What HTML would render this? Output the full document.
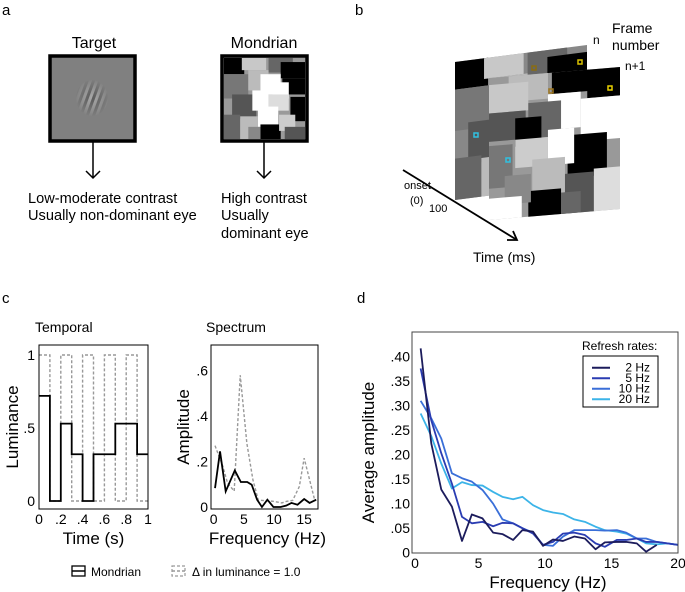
<!DOCTYPE html>
<html><head><meta charset="utf-8">
<style>
html,body{margin:0;padding:0;background:#fff}
svg{display:block;font-family:"Liberation Sans",Arial,sans-serif}
</style></head>
<body>
<svg id="fig" width="685" height="592" viewBox="0 0 685 592">
<defs>
<radialGradient id="gab" cx="0.5" cy="0.5" r="0.5">
<stop offset="0" stop-color="#808080" stop-opacity="0"/><stop offset="1" stop-color="#808080" stop-opacity="1"/>
</radialGradient>
<pattern id="stripes" width="6" height="6" patternUnits="userSpaceOnUse" patternTransform="rotate(20)">
<rect width="3" height="6" fill="#5a5a5a"/><rect x="3" width="3" height="6" fill="#a8a8a8"/>
</pattern>
<clipPath id="clipM"><rect x="224" y="58" width="81" height="81"/></clipPath>
</defs>

<!-- Panel a -->
<text x="2" y="15" font-size="15">a</text>
<text x="94" y="48" font-size="16" text-anchor="middle">Target</text>
<text x="264" y="48" font-size="16" text-anchor="middle">Mondrian</text>
<g>
<rect x="50" y="56" width="85" height="85" fill="#808080" stroke="#000" stroke-width="3.5"/>
<ellipse cx="92" cy="98" rx="16" ry="18" fill="url(#stripes)"/>
<ellipse cx="92" cy="98" rx="17" ry="19" fill="url(#gab)"/>
</g>
<g>
<rect x="222" y="56" width="85" height="85" fill="#aaa" stroke="#000" stroke-width="3.5"/>
<g clip-path="url(#clipM)" id="mondA"></g>
</g>
<g stroke="#000" stroke-width="1.5" fill="none">
<line x1="93" y1="142" x2="93" y2="178"/><polyline points="86,171 93,178 100,171"/></g>
<g stroke="#000" stroke-width="1.5" fill="none">
<line x1="264" y1="142" x2="264" y2="178"/><polyline points="257,171 264,178 271,171"/></g>
<g font-size="14.6">
<text x="28" y="203">Low-moderate contrast</text><text x="28" y="220">Usually non-dominant eye</text></g>
<g font-size="14.6">
<text x="221" y="203">High contrast</text><text x="221" y="220">Usually</text><text x="221" y="238">dominant eye</text></g>

<!-- Panel b -->
<text x="355" y="15" font-size="15">b</text>
<g id="backFrame" transform="matrix(132,-17,0,138,455,62)"></g>
<g id="frontFrame" transform="matrix(131,-11,0,142,489,78)"></g>
<g fill="none" stroke-width="1.5">
<rect x="532" y="66" width="4" height="4" stroke="#8a6d10"/>
<rect x="578" y="60" width="4" height="4" stroke="#d8c000"/>
<rect x="549" y="89" width="4" height="4" stroke="#a07820"/>
<rect x="608" y="86" width="4" height="4" stroke="#e8d000"/>
<rect x="474" y="133" width="4" height="4" stroke="#30c0e0"/>
<rect x="506" y="158" width="4" height="4" stroke="#30c0e0"/>
</g>
<text x="593" y="44" font-size="12">n</text>
<text x="612" y="33" font-size="14">Frame</text>
<text x="612" y="50" font-size="14">number</text>
<text x="625" y="70" font-size="12">n+1</text>
<g stroke="#000" stroke-width="1.8" fill="none">
<line x1="403" y1="170" x2="517" y2="240"/><polyline points="507,240 517,240 513,231"/></g>
<text x="404" y="189" font-size="11">onset</text>
<text x="410" y="204" font-size="11">(0)</text>
<text x="429" y="212" font-size="11">100</text>
<text x="473" y="262" font-size="14">Time (ms)</text>

<!-- Panel c -->
<text x="2" y="303" font-size="15">c</text>
<text x="35" y="332" font-size="14">Temporal</text>
<text x="206" y="332" font-size="14">Spectrum</text>
<g id="temporal"></g>
<g id="spectrum"></g>
<g font-size="12">
<g><rect x="72" y="566" width="13" height="10" fill="none" stroke="#000" stroke-width="1.3"/><line x1="72" y1="571" x2="85" y2="571" stroke="#000" stroke-width="1.5"/><text x="91" y="576">Mondrian</text></g>
<g><rect x="172" y="566" width="13" height="10" fill="none" stroke="#999" stroke-width="1.2" stroke-dasharray="3,2"/><line x1="172" y1="571" x2="185" y2="571" stroke="#999" stroke-width="1.5" stroke-dasharray="3,2"/><text x="192" y="576">Δ in luminance = 1.0</text></g>
</g>

<!-- Panel d -->
<text x="357" y="303" font-size="15">d</text>
<g id="panelD"></g>
</svg>

<script>
// ---------- Panel c data ----------
const temporalEdges = [0,0.1,0.2,0.3,0.4,0.5,0.6,0.7,0.8,0.9,1.0];
const mondrianLum = [0.72,0,0.53,0.32,0,0.32,0.32,0.53,0.53,0.32];
const squareLum = [1,0,1,0,1,0,1,0,1,0];
const temporalXTicks = [0,0.2,0.4,0.6,0.8,1];
const temporalXTickLabels = ["0",".2",".4",".6",".8","1"];
const temporalYTicks = [0,0.5,1];
const temporalYTickLabels = ["0",".5","1"];

const specMondFreq = [0.22,1.05,1.99,3.5,4.5,5.56,6.3,7.2,8.0,8.9,9.9,11.1,12.0,12.9,13.9,15,15.9,17];
const specMondAmp = [0.083,0.245,0.069,0.161,0.11,0.11,0.098,0.032,0,0.032,0,0,0.006,0.018,0.01,0.035,0.018,0.032];
const specSqFreq = [0.22,1.5,2.3,3.4,4.4,5.5,6.5,7.4,8.5,9.9,11.3,12.1,13.1,14.2,15,15.9,16.8];
const specSqAmp = [0.27,0.18,0.105,0.07,0.58,0.28,0.12,0.03,0.028,0.025,0.018,0.025,0.029,0.09,0.215,0.12,0.025];
const specXTicks = [0,5,10,15];
const specYTicks = [0,0.2,0.4,0.6];
const specYTickLabels = ["0",".2",".4",".6"];

// ---------- Panel d data ----------
const freqD = [0.65,1.45,2.2,3.0,3.76,4.5,5.3,6.1,6.8,7.6,8.3,9.1,9.85,10.6,11.35,12.2,13,13.8,14.5,15.4,16.1,16.9,17.6,18.4,19.2,20];
const amp2Hz = [0.417,0.223,0.129,0.094,0.024,0.078,0.07,0.041,0.038,0.026,0.046,0.043,0.014,0.027,0.024,0.033,0.029,0.007,0.021,0.022,0.022,0.019,0.002,0.016];
const amp5Hz = [0.376,0.27,0.203,0.141,0.073,0.06,0.063,0.054,0.061,0.06,0.05,0.039,0.016,0.022,0.039,0.041,0.036,0.019,0.012,0.026,0.026,0.029,0.022,0.022,0.019,0.016];
const amp10Hz = [0.31,0.274,0.233,0.162,0.152,0.145,0.128,0.1,0.068,0.06,0.05,0.041,0.016,0.014,0.033,0.046,0.046,0.046,0.045,0.046,0.041,0.029,0.029,0.022,0.019,0.016];
const amp20Hz = [0.284,0.238,0.182,0.131,0.144,0.138,0.137,0.124,0.114,0.109,0.114,0.097,0.087,0.082,0.079,0.068,0.063,0.053,0.046,0.043,0.039,0.029,0.019,0.017,0.019,0.016];
const seriesNames = ["2 Hz","5 Hz","10 Hz","20 Hz"];
const dXTicks = [0,5,10,15,20];
const dYTicks = [0,0.05,0.1,0.15,0.2,0.25,0.3,0.35,0.4];
const dYTickLabels = ["0",".05",".10",".15",".20",".25",".30",".35",".40"];

const NS = "http://www.w3.org/2000/svg";
function mk(tag, attrs, parent){const e=document.createElementNS(NS,tag);for(const k in attrs)e.setAttribute(k,attrs[k]);if(parent)parent.appendChild(e);return e;}

// ---------- Mondrian rects (unit coords) ----------
const mondRects = [
 [0,0,1,1,"#9a9a9a"],[0,0,0.25,0.2,"#000"],[0.22,0,0.3,0.15,"#c8c8c8"],[0.55,0,0.3,0.18,"#666"],[0.7,0.05,0.3,0.2,"#000"],
 [0,0.2,0.3,0.3,"#777"],[0.3,0.15,0.25,0.25,"#bbb"],[0.45,0.2,0.25,0.25,"#fff"],[0.72,0.25,0.28,0.2,"#000"],
 [0.6,0.3,0.2,0.2,"#fff"],[0.1,0.45,0.3,0.3,"#555"],[0.35,0.4,0.2,0.25,"#fff"],[0.55,0.45,0.25,0.2,"#ddd"],
 [0.82,0.48,0.18,0.3,"#000"],[0.0,0.7,0.2,0.3,"#666"],[0.2,0.72,0.25,0.28,"#bbb"],[0.42,0.6,0.25,0.25,"#fff"],
 [0.45,0.82,0.25,0.18,"#000"],[0.68,0.7,0.2,0.2,"#ccc"],[0.75,0.85,0.25,0.15,"#555"],[0.3,0.85,0.15,0.15,"#888"]
];
(function(){
  const g=document.getElementById("mondA");
  mondRects.forEach(r=>{const e=mk("rect",{x:224+r[0]*81,y:58+r[1]*81,width:r[2]*81,height:r[3]*81,fill:r[4]},g);
  
  });
  const back=document.getElementById("backFrame");
  mondRects.forEach((r,i)=>{const e=mk("rect",{x:r[0],y:r[1],width:r[2],height:r[3],fill:i===0?"#888":r[4]},back);
  
  });
  const front=document.getElementById("frontFrame");
  const shuffled=[[0,0,1,1,"#999"]].concat(mondRects.slice(1).map((r,i)=>[1-r[0]-r[2],r[1],r[2],r[3],mondRects[(i*7)%20+1][4]]));
  shuffled.forEach(r=>{const e=mk("rect",{x:r[0],y:r[1],width:r[2],height:r[3],fill:r[4]},front);
  
  });
})();

// ---------- Temporal chart ----------
(function(){
  const g=document.getElementById("temporal");
  const L=39,R=148,T=345,B=509;
  const xs=v=>L+v*(R-L), ys=v=>501-v*(501-355);
  function stepPath(vals){let d="";vals.forEach((v,i)=>{const x0=xs(temporalEdges[i]),x1=xs(temporalEdges[i+1]),y=ys(v);d+=(i===0?"M":"L")+x0+","+y+"L"+x1+","+y;});return d;}
  const sq=mk("path",{d:stepPath(squareLum),fill:"none",stroke:"#999","stroke-width":1.4,"stroke-dasharray":"3,2"},g);
  
  
  const mo=mk("path",{d:stepPath(mondrianLum),fill:"none",stroke:"#000","stroke-width":1.8},g);
  
  
  mk("rect",{x:L,y:T,width:R-L,height:B-T,fill:"none",stroke:"#000","stroke-width":1},g);
  temporalXTicks.forEach((t,i)=>{const tx=mk("text",{x:xs(t),y:B+15,"font-size":14,"text-anchor":"middle"},g);tx.textContent=temporalXTickLabels[i];
  
  });
  temporalYTicks.forEach((t,i)=>{const tx=mk("text",{x:L-4,y:ys(t)+5,"font-size":14,"text-anchor":"end"},g);tx.textContent=temporalYTickLabels[i];
  
  });
  const xt=mk("text",{x:(L+R)/2,y:B+35,"font-size":17,"text-anchor":"middle"},g);xt.textContent="Time (s)";
  
  
  const yt=mk("text",{x:0,y:0,"font-size":17,"text-anchor":"middle",transform:`translate(18,${(T+B)/2}) rotate(-90)`},g);yt.textContent="Luminance";
  
  
})();

// ---------- Spectrum chart ----------
(function(){
  const g=document.getElementById("spectrum");
  const L=211,R=318,T=345,B=509;
  const xs=v=>213.7+v*6.03, ys=v=>507-v*(507-370.7)/0.6;
  const pl=(xa,ya)=>xa.map((x,i)=>xs(x)+","+ys(ya[i])).join(" ");
  const sq=mk("polyline",{points:pl(specSqFreq,specSqAmp),fill:"none",stroke:"#999","stroke-width":1.4,"stroke-dasharray":"3,2"},g);
  
  
  const mo=mk("polyline",{points:pl(specMondFreq,specMondAmp),fill:"none",stroke:"#000","stroke-width":1.8},g);
  
  
  mk("rect",{x:L,y:T,width:R-L,height:B-T,fill:"none",stroke:"#000","stroke-width":1},g);
  specXTicks.forEach(t=>{const tx=mk("text",{x:xs(t),y:B+15,"font-size":14,"text-anchor":"middle"},g);tx.textContent=String(t);
  
  });
  specYTicks.forEach((t,i)=>{const tx=mk("text",{x:L-3,y:ys(t)+5,"font-size":14,"text-anchor":"end"},g);tx.textContent=specYTickLabels[i];
  
  });
  const xt=mk("text",{x:(L+R)/2+3,y:B+35,"font-size":17,"text-anchor":"middle"},g);xt.textContent="Frequency (Hz)";
  
  
  const yt=mk("text",{x:0,y:0,"font-size":17,"text-anchor":"middle",transform:`translate(189,${(T+B)/2}) rotate(-90)`},g);yt.textContent="Amplitude";
  
  
})();

// ---------- Panel d ----------
(function(){
  const g=document.getElementById("panelD");
  const L=412,R=678,T=332,B=553;
  const xs=v=>412+v*(678-412)/20, ys=v=>552.7-v*(552.7-356.7)/0.4;
  const colors=["#1c1c5c","#2a3cb2","#3a6fd8","#3cb4e8"];
  const series=[amp2Hz,amp5Hz,amp10Hz,amp20Hz];
  for(let s=3;s>=0;s--){
    const vals=series[s];
    const pts=vals.map((v,i)=>xs(freqD[i])+","+ys(v)).join(" ");
    const p=mk("polyline",{points:pts,fill:"none",stroke:colors[s],"stroke-width":1.8,"stroke-linejoin":"round"},g);
    
    
  }
  mk("rect",{x:L,y:T,width:R-L,height:B-T,fill:"none",stroke:"#444","stroke-width":1},g);
  dXTicks.forEach(t=>{const tx=mk("text",{x:xs(t)+(t===0?3:0),y:B+15,"font-size":14,"text-anchor":"middle"},g);tx.textContent=String(t);
  
  });
  dYTicks.forEach((t,i)=>{const tx=mk("text",{x:L-2,y:ys(t)+5,"font-size":14,"text-anchor":"end"},g);tx.textContent=dYTickLabels[i];
  
  });
  const xt=mk("text",{x:(L+R)/2+3,y:B+35,"font-size":17,"text-anchor":"middle"},g);xt.textContent="Frequency (Hz)";
  
  
  const yt=mk("text",{x:0,y:0,"font-size":17,"text-anchor":"middle",transform:`translate(374,${(T+B)/2+10}) rotate(-90)`},g);yt.textContent="Average amplitude";
  
  
  const lg=mk("g",{},g);
  
  
  const lt=mk("text",{x:582,y:350,"font-size":12},lg);lt.textContent="Refresh rates:";
  mk("rect",{x:583,y:356,width:75,height:51,fill:"#fff",stroke:"#000","stroke-width":1},lg);
  seriesNames.forEach((n,i)=>{
    const y=367.7+i*10.5;
    const ln=mk("line",{x1:592,y1:y,x2:610,y2:y,stroke:colors[i],"stroke-width":2},lg);
    
    
    const tx=mk("text",{x:650,y:y+4,"font-size":12,"text-anchor":"end"},lg);tx.textContent=n;
    
    
  });
})();
</script>
</body></html>
